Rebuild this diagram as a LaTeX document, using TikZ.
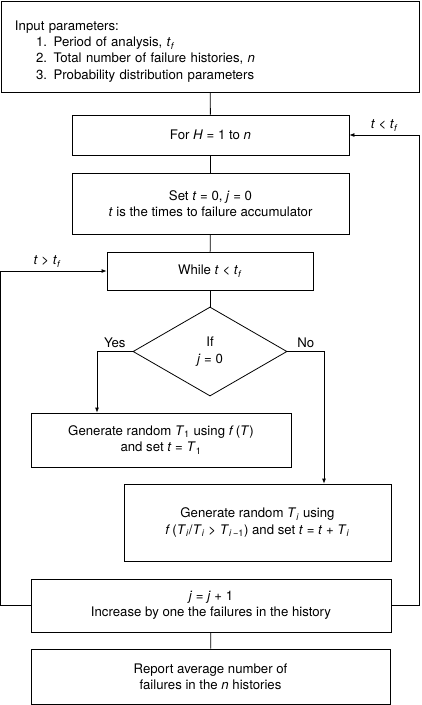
\documentclass[tikz,border=0pt]{standalone}
\usepackage{fontspec}
\setmainfont{TeX Gyre Heros}
\usetikzlibrary{arrows.meta, shapes}

\newcommand{\iv}[1]{\textit{#1}}
\newcommand{\tfail}{\iv{t}\textsubscript{\iv{f}}}

\begin{document}
\begin{tikzpicture}[x=1pt, y=-1pt, line width=0.8pt,
                    font=\fontsize{13.2}{16.3}\selectfont]
            \useasboundingbox (0,0) rectangle (422,705);
            \begin{scope}[every node/.style={rectangle,draw,inner sep=0pt,align=center}]
                \node[text width=390pt, align=left, inner xsep=14pt, minimum height=91pt] (input) at (210,46.5)
                    {\rule{0pt}{19pt}Input parameters:\\
                     \hspace*{21pt}1. Period of analysis, \tfail\\
                     \hspace*{21pt}2. Total number of failure histories, \iv{n}\\
                     \hspace*{21pt}3. Probability distribution parameters};
                \node[minimum width=277pt, minimum height=40pt] (for) at (210.5,135) {For \iv{H} = 1 to \iv{n}};
                \node[minimum width=277pt, minimum height=61pt] (set) at (210.5,203.5)
                    {Set \iv{t} = 0, \iv{j} = 0\\ \iv{t} is the times to failure accumulator};
                \node[minimum width=206pt, minimum height=38pt] (while) at (210,271) {While \iv{t} < \tfail};
                \node[shape=diamond, minimum width=154pt, minimum height=89pt] (dec) at (210,351.5) {If\\ \iv{j} = 0};
                \node[minimum width=260pt, minimum height=54pt] (gen1) at (161,440)
                    {Generate random \iv{T}\textsubscript{1} using \iv{f}\,(\iv{T})\\ and set \iv{t} = \iv{T}\textsubscript{1}};
                \node[minimum width=267pt, minimum height=77pt] (gen2) at (257.5,522.5)
                    {Generate random \iv{T}\textsubscript{\iv{i}} using\\
                     \iv{f}\,(\iv{T}\textsubscript{\iv{i}}/\iv{T}\textsubscript{\iv{i}} > \iv{T}\textsubscript{\iv{i}\,−1}) and set \iv{t} = \iv{t} + \iv{T}\textsubscript{\iv{i}}};
                \node[minimum width=360pt, minimum height=53pt] (incr) at (211,605.5)
                    {\iv{j} = \iv{j} + 1\\ Increase by one the failures in the history};
                \node[minimum width=359pt, minimum height=55pt] (report) at (210.5,676.5)
                    {Report average number of\\ failures in the \iv{n} histories};
            \end{scope}

            \begin{scope}[>={Latex[length=5pt,width=4pt]},
                          every edge/.style={draw=black, line width=0.8pt}]
                 \path (input) edge (for);
                 \path (for) edge (set);
                 \path (set) edge (while);
                 \path (while) edge (dec);
                 \path (incr) edge (report);
                 \draw[->] (dec.west) -| node[pos=0.25, above] (yes) {Yes} ([xshift=-64pt]gen1.north);
                 \draw[->] (dec.east) -| node[pos=0.25, above] (no) {No} ([xshift=66.5pt]gen2.north);
                 \draw[->] (incr.west) -- ++(-30,0) |- node[pos=0.72, above] (gt) {\iv{t} > \tfail} (while.west);
                 \draw[->] (incr.east) -- ++(28,0) |- node[pos=0.75, above] (lt) {\iv{t} < \tfail} (for.east);
            \end{scope}
\end{tikzpicture}
\end{document}
